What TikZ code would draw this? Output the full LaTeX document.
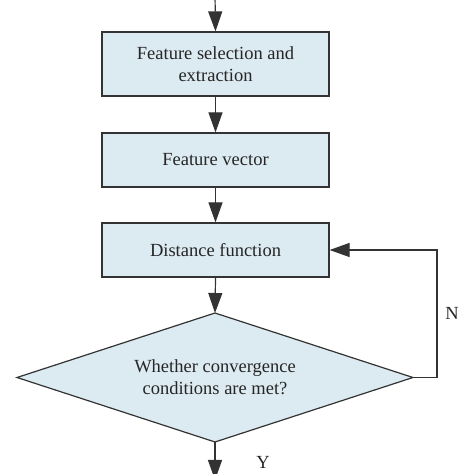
\documentclass[tikz,border=0pt]{standalone}
\usepackage{fontspec}
\setmainfont{Liberation Serif}
\usetikzlibrary{arrows.meta,shapes.geometric}
\definecolor{boxfill}{HTML}{DCEAF1}
\definecolor{edge}{HTML}{333333}
\begin{document}
\begin{tikzpicture}[x=1pt,y=1pt,
  txt/.style={font=\fontsize{18.5}{22}\selectfont,text=black!85},
  stepbox/.style={draw=edge,line width=1.2pt,fill=boxfill,minimum width=227pt,inner sep=0pt,align=center,txt},
  arr/.style={draw=edge,line width=1.2pt,-{Triangle[length=20pt,width=14pt]}},
  ln/.style={draw=edge,line width=1.2pt}]
\useasboundingbox (0,0) rectangle (474,474);
\clip (0,0) rectangle (474,474);
\node[stepbox,minimum height=64pt] (b1) at (215.5,410) {Feature selection and\\extraction};
\node[stepbox,minimum height=54pt] (b2) at (215.5,314) {Feature vector};
\node[stepbox,minimum height=54pt] (b3) at (215.5,224) {Distance function};
\draw[ln,fill=boxfill] (215,161) coordinate (dt) -- (413,96.5) coordinate (dr) -- (215,32) coordinate (db) -- (17,96.5) coordinate (dl) -- cycle;
\node[align=center,txt] (q) at (215,96.5) {Whether convergence\\conditions are met?};
\coordinate (top) at (215,480);
\coordinate (bot) at (215,-6);
\coordinate (nc) at (437,96.5);
\draw[arr] (top) -- (b1.north);
\draw[arr] (b1.south) -- (b2.north);
\draw[arr] (b2.south) -- (b3.north);
\draw[arr] (b3.south) -- (dt);
\draw[arr] (dr) -- (nc) |- (b3.east);
\draw[arr] (db) -- (bot);
\node[txt] (nl) at (452,161) {N};
\node[txt] (yl) at (263,12) {Y};
\end{tikzpicture}
\end{document}
